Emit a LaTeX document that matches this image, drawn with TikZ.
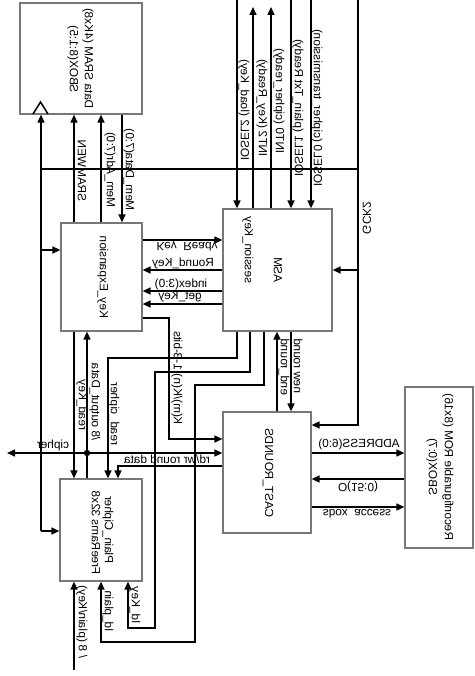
\documentclass[tikz,border=0pt]{standalone}
\usepackage{fontspec}
\setmainfont{Liberation Sans}
\usetikzlibrary{arrows.meta}
\definecolor{boxgray}{RGB}{120,120,120}
\begin{document}
\begin{tikzpicture}[x=1pt,y=-1pt,
  wire/.style={line width=1.5pt},
  arr/.style={-{Triangle[length=8pt,width=7pt]}},
  blk/.style={draw=boxgray, line width=1.2pt, inner sep=0pt},
  lab/.style={font=\fontsize{11.8}{13}\selectfont, inner sep=0pt},
  tA/.style={lab, rotate=90, yscale=-1},
  tB/.style={lab, yscale=-1},
  tC/.style={lab, xscale=-1}]
\useasboundingbox (0,0) rectangle (474,676);

% blocks
\node[blk, minimum width=122pt, minimum height=111pt] (sram) at (81,58.5) {};
\node[blk, minimum width=81pt, minimum height=108pt] (ke) at (101.5,277) {};
\node[blk, minimum width=109pt, minimum height=122pt] (asm) at (277.5,270) {};
\node[blk, minimum width=82pt, minimum height=102pt] (pc) at (101,530) {};
\node[blk, minimum width=88pt, minimum height=121pt] (cast) at (267,472.5) {};
\node[blk, minimum width=68pt, minimum height=161pt] (rom) at (439,467.5) {};

% clock network (GCK2)
\draw[wire,arr] (358,0) -- (358,425) -- (cast.east |- 0,425);
\draw[wire,arr] (358,270) -- (asm.east |- 0,270);
\draw[wire] (358,169) -- (41,169);
\draw[wire,arr] (41,531) -- (41,0 |- sram.south);
\draw[wire,arr] (41,250) -- (ke.west |- 0,250);
\draw[wire,arr] (41,531) -- (pc.west |- 0,531);
\draw[wire] (33,114) -- (40.5,102) -- (48,114);

% SRAM <-> Key_Expansion
\draw[wire,arr] (74,0 |- ke.north) -- (74,0 |- sram.south);
\draw[wire,arr] (101,0 |- ke.north) -- (101,0 |- sram.south);
\draw[wire,arr] (122,0 |- sram.south) -- (122,0 |- ke.north);

% Key_Expansion <-> ASM
\draw[wire,arr] (ke.east |- 0,240) -- (asm.west |- 0,240);
\draw[wire,arr] (asm.west |- 0,270) -- (ke.east |- 0,270);
\draw[wire,arr] (asm.west |- 0,291) -- (ke.east |- 0,291);
\draw[wire,arr] (asm.west |- 0,304) -- (ke.east |- 0,304);
\draw[wire,arr] (ke.east |- 0,318) -- (169,318) -- (169,439) -- (cast.west |- 0,439);

% top I/O of ASM
\draw[wire,arr] (237,0) -- (237,0 |- asm.north);
\draw[wire,arr] (253,0 |- asm.north) -- (253,7);
\draw[wire,arr] (271,0 |- asm.north) -- (271,7);
\draw[wire,arr] (291,0) -- (291,0 |- asm.north);
\draw[wire,arr] (311,0) -- (311,0 |- asm.north);

% cipher bus
\draw[wire,{Triangle[length=8pt,width=7pt]}-{Triangle[length=8pt,width=7pt]}] (7,453) -- (cast.west |- 0,453);
\coordinate (dot) at (87,453);
\fill (dot) circle (3.2pt);
\draw[wire,arr] (87,0 |- pc.north) -- (87,0 |- ke.south);
\draw[wire,arr] (74,0 |- ke.south) -- (74,0 |- pc.north);

% ASM bottom to Plain_Cipher
\draw[wire,arr] (237,0 |- asm.south) -- (237,358) -- (108,358) -- (108,0 |- pc.north);
\draw[wire,arr] (cast.west |- 0,466) -- (118,466) -- (118,0 |- pc.north);
\draw[wire,arr] (250,0 |- asm.south) -- (250,372) -- (155,372) -- (155,628) -- (128,628) -- (128,0 |- pc.south);
\draw[wire,arr] (264,0 |- asm.south) -- (264,385) -- (195,385) -- (195,642) -- (101,642) -- (101,0 |- pc.south);
\draw[wire,arr] (74,670) -- (74,0 |- pc.south);

% ASM <-> CAST_ROUNDS
\draw[wire,arr] (277,0 |- cast.north) -- (277,0 |- asm.south);
\draw[wire,arr] (291,0 |- asm.south) -- (291,0 |- cast.north);

% CAST_ROUNDS <-> ROM
\draw[wire,arr] (cast.east |- 0,453) -- (rom.west |- 0,453);
\draw[wire,arr] (rom.west |- 0,479) -- (cast.east |- 0,479);
\draw[wire,arr] (cast.east |- 0,507) -- (rom.west |- 0,507);

% block texts
\node[tA] (t1) at (88,58.5) {Data SRAM (4Kx8)};
\node[tA] (t2) at (73,59.5) {SBOX(8:1:5)};
\node[tA] (t3) at (103,277) {Key\_Expansion};
\node[tA] (t4) at (278,270) {ASM};
\node[tA] (t5) at (248,250) {session\_Key};
\node[tA] (t6) at (268,473) {CAST\_ROUNDS};
\node[tA] (t7) at (108,530) {Plain\_Cipher};
\node[tA] (t8) at (96,533) {FreeRams 32x8};
\node[tA] (t9) at (448,467) {Reconfigurable ROM (8x16)};
\node[tA] (t10) at (432,467) {SBOX(0:7)};

% signal texts (vertical)
\node[tA] (s1) at (82,171) {SRAMWEN};
\node[tA] (s2) at (110,170) {Mem\_Adr(7:0)};
\node[tA] (s3) at (129,170) {Mem\_Data(7:0)};
\node[tA] (s4) at (244,110) {IOSEL2 (load\_Key)};
\node[tA] (s5) at (262,108) {INT2 (Key\_Ready)};
\node[tA] (s6) at (279,101) {INT0 (cipher\_ready)};
\node[tA] (s7) at (298,108) {IOSEL1 (plain\_Txt Ready)};
\node[tA] (s8) at (317,108) {IOSEL0 (cipher\_transmission)};
\node[tA] (s9) at (367,218) {GCK2};
\node[tA] (s10) at (177,378) {K(m)/K(n) 1-3-bits};
\node[tA] (s11) at (82,405) {read\_Key};
\node[tA] (s12) at (95,402) {/8 output\_Data};
\node[tA] (s13) at (114,414) {read\_cipher};
\node[tA] (s14) at (284,367) {end\_round};
\node[tA] (s15) at (298,366) {new round};
\node[tA] (s16) at (135,605) {ld\_Key};
\node[tA] (s17) at (108,611) {ld\_plain};
\node[tA] (s18) at (82,622) {/ 8 (plain/Key)};

% horizontal texts
\node[tB] (h1) at (187,246) {Key\_Ready};
\node[tC] (h2) at (183,263) {Round\_Key};
\node[tC] (h3) at (181,284) {index(3:0)};
\node[tC] (h4) at (180,297) {get\_Key};
\node[tC] (h5) at (53,445) {cipher};
\node[tC] (h6) at (167,459) {rd/wr round data};
\node[tC] (h7) at (359,444) {ADDRESS(6:0)};
\node[tB] (h8) at (358,487) {O(15:0)};
\node[tB] (h9) at (357,513) {sbox\_access};
\end{tikzpicture}
\end{document}
